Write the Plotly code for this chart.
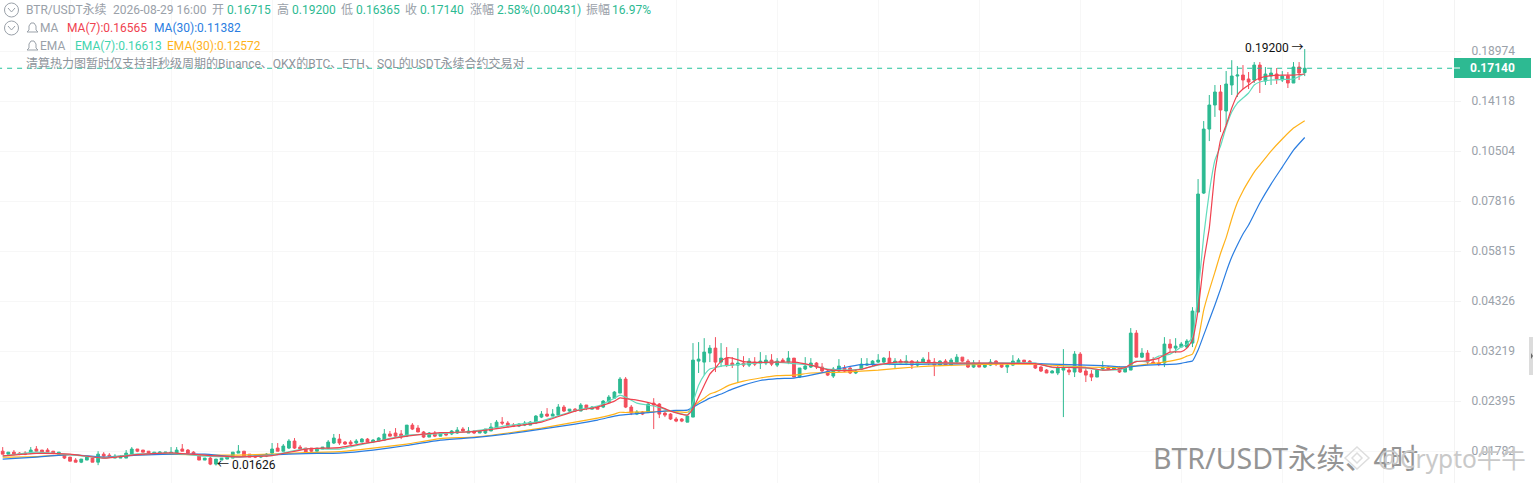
import math
import plotly.graph_objects as go

opens = [
 .01771,.01740,.01761,.01751,.01751,.01751,.01793,.01782,.01782,.01771,
 .01740,.01730,.01710,.01680,.01659,.01680,.01700,.01659,.01740,.01730,
 .01700,.01700,.01700,.01730,.01793,.01782,.01771,.01740,.01751,.01751,
 .01740,.01751,.01793,.01782,.01761,.01730,.01680,.01700,.01640,.01680,
 .01690,.01700,.01751,.01771,.01740,.01720,.01710,.01720,.01751,.01803,
 .01771,.01803,.01880,.01814,.01803,.01803,.01771,.01793,.01803,.01858,
 .01902,.01869,.01869,.01858,.01869,.01902,.01869,.01880,.01891,.01960,
 .01971,.01960,.01936,.02066,.02030,.01983,.01925,.01971,.01936,.01971,
 .01960,.01971,.02018,.01971,.01995,.01971,.01971,.01995,.02030,.02103,
 .02091,.02066,.02054,.02066,.02066,.02091,.02166,.02205,.02179,.02192,
 .02298,.02245,.02271,.02245,.02326,.02271,.02298,.02298,.02367,.02423,
 .02496,.02712,.02298,.02205,.02232,.02232,.02353,.02339,.02218,.02205,
 .02141,.02141,.02103,.02166,.03016,.02998,.03162,.03257,.02998,.03070,
 .02981,.02946,.02981,.02946,.02998,.02981,.02981,.03034,.02946,.03034,
 .02998,.03070,.02745,.02878,.02912,.02981,.02912,.02844,.02761,.02844,
 .02895,.02895,.02811,.02878,.02946,.02963,.02998,.02998,.03070,.02981,
 .03016,.02981,.03016,.02946,.02998,.03034,.02998,.02946,.03016,.02946,
 .02998,.03088,.03016,.02912,.02981,.02912,.02946,.03016,.02963,.02912,
 .02946,.02981,.03034,.03016,.02946,.02912,.02860,.02811,.02811,.02860,
 .02860,.02827,.03143,.02844,.02794,.02745,.02878,.02912,.02878,.02895,
 .02827,.02860,.03559,.03088,.03162,.02998,.02981,.02981,.03335,.03257,
 .03277,.03277,.03355,.04030,.08146,.11894,.13709,.14807,.13233,.15431,
 .16273,.16369,.15988,.15894,.17364,.15800,.16273,.16466,.15894,.16273,
 .15614,.17160,.16715]
highs = [
 .01814,.01761,.01782,.01761,.01771,.01814,.01825,.01782,.01803,.01771,
 .01761,.01740,.01710,.01700,.01690,.01710,.01700,.01771,.01761,.01751,
 .01740,.01730,.01782,.01814,.01793,.01782,.01771,.01761,.01771,.01761,
 .01814,.01814,.01847,.01793,.01771,.01730,.01700,.01720,.01690,.01700,
 .01720,.01761,.01836,.01771,.01740,.01730,.01730,.01751,.01858,.01858,
 .01847,.01902,.01914,.01836,.01803,.01803,.01803,.01814,.01891,.01960,
 .01960,.01880,.01891,.01902,.01914,.01914,.01902,.01925,.02018,.01995,
 .02030,.02006,.02066,.02091,.02066,.01995,.01983,.01995,.01971,.01971,
 .02006,.02042,.02042,.02042,.02006,.01995,.02018,.02091,.02128,.02166,
 .02116,.02091,.02091,.02116,.02116,.02192,.02245,.02285,.02271,.02339,
 .02326,.02271,.02285,.02353,.02326,.02312,.02312,.02395,.02467,.02526,
 .02745,.02745,.02326,.02258,.02245,.02353,.02423,.02353,.02232,.02218,
 .02166,.02153,.02179,.03355,.03375,.03455,.03315,.03475,.03355,.03277,
 .03088,.03257,.03106,.03070,.03088,.03181,.03125,.03143,.03070,.03070,
 .03200,.03070,.02895,.03088,.03070,.02998,.02981,.02878,.02912,.03052,
 .02946,.02929,.02878,.03070,.03070,.03034,.03143,.03088,.03200,.03070,
 .03052,.03125,.03034,.03034,.03088,.03181,.03070,.03034,.03052,.03070,
 .03143,.03088,.03052,.03034,.03034,.02963,.03052,.03034,.02981,.02963,
 .03125,.03070,.03034,.03034,.02981,.02929,.02878,.02860,.02929,.03238,
 .02895,.03200,.03181,.02895,.02860,.02878,.03016,.02929,.02929,.02929,
 .02912,.03666,.03623,.03257,.03219,.03088,.03070,.03475,.03435,.03455,
 .03375,.03435,.04150,.08849,.12470,.14546,.15431,.15431,.16761,.17873,
 .17261,.17364,.16662,.17674,.17674,.17160,.17059,.17059,.16761,.16662,
 .17674,.17674,.19200]
lows = [
 .01740,.01740,.01730,.01730,.01730,.01740,.01761,.01761,.01761,.01740,
 .01740,.01690,.01669,.01659,.01650,.01680,.01659,.01630,.01710,.01720,
 .01700,.01700,.01700,.01730,.01761,.01761,.01740,.01740,.01751,.01751,
 .01740,.01740,.01771,.01751,.01740,.01680,.01680,.01630,.01626,.01680,
 .01690,.01700,.01751,.01720,.01710,.01700,.01700,.01710,.01740,.01771,
 .01771,.01793,.01793,.01782,.01761,.01761,.01771,.01793,.01793,.01847,
 .01836,.01836,.01836,.01847,.01869,.01869,.01858,.01880,.01880,.01936,
 .01925,.01902,.01925,.02006,.01983,.01914,.01925,.01925,.01936,.01936,
 .01948,.01960,.01983,.01971,.01960,.01971,.01960,.01995,.02018,.02066,
 .02042,.02042,.02042,.02054,.02066,.02079,.02153,.02166,.02179,.02179,
 .02232,.02232,.02232,.02245,.02258,.02271,.02271,.02285,.02353,.02423,
 .02496,.02285,.02192,.02192,.02192,.02218,.02018,.02153,.02166,.02128,
 .02103,.02103,.02103,.02166,.02811,.02777,.02998,.02827,.02912,.02912,
 .02895,.02649,.02912,.02912,.02929,.02878,.02946,.02929,.02912,.02981,
 .02963,.02745,.02729,.02860,.02895,.02878,.02827,.02761,.02729,.02827,
 .02827,.02794,.02794,.02860,.02929,.02929,.02981,.02981,.02946,.02895,
 .02963,.02946,.02878,.02912,.02981,.02946,.02761,.02929,.02946,.02929,
 .02981,.02998,.02895,.02895,.02912,.02895,.02929,.02929,.02895,.02811,
 .02929,.02963,.02981,.02963,.02878,.02827,.02811,.02811,.02777,.02166,
 .02777,.02745,.02811,.02665,.02680,.02745,.02860,.02860,.02860,.02811,
 .02827,.02860,.03088,.03070,.02946,.02963,.02929,.02912,.03181,.03162,
 .03277,.03257,.03277,.04030,.08099,.11078,.12779,.11684,.12178,.14546,
 .14375,.15071,.15071,.15614,.14719,.15431,.15431,.15522,.15707,.15160,
 .15614,.15894,.16365]
closes = [
 .01740,.01761,.01740,.01740,.01740,.01782,.01771,.01761,.01761,.01751,
 .01761,.01700,.01669,.01659,.01690,.01710,.01659,.01740,.01720,.01720,
 .01720,.01710,.01751,.01793,.01771,.01761,.01751,.01761,.01761,.01761,
 .01761,.01782,.01771,.01751,.01740,.01680,.01700,.01640,.01690,.01700,
 .01710,.01761,.01771,.01720,.01710,.01710,.01730,.01740,.01793,.01771,
 .01825,.01880,.01803,.01793,.01761,.01771,.01803,.01814,.01869,.01914,
 .01858,.01847,.01847,.01880,.01902,.01869,.01891,.01914,.01960,.01936,
 .01936,.01925,.02066,.02018,.01983,.01925,.01971,.01936,.01971,.01948,
 .01995,.02006,.01995,.01995,.01971,.01995,.02018,.02042,.02103,.02091,
 .02054,.02054,.02079,.02091,.02103,.02179,.02205,.02179,.02205,.02298,
 .02245,.02271,.02245,.02326,.02285,.02298,.02271,.02381,.02438,.02511,
 .02712,.02298,.02218,.02232,.02205,.02339,.02326,.02205,.02192,.02141,
 .02116,.02116,.02179,.03034,.03052,.03181,.03257,.02998,.03070,.02946,
 .02946,.02981,.02946,.03016,.02963,.03016,.03034,.02963,.03016,.02998,
 .03070,.02745,.02895,.02929,.02981,.02912,.02844,.02777,.02878,.02929,
 .02844,.02811,.02844,.02963,.02963,.03016,.03034,.03070,.02981,.03016,
 .02981,.03016,.02946,.02998,.03052,.02981,.02946,.03016,.02946,.03034,
 .03088,.03016,.02912,.02981,.02912,.02963,.02998,.02963,.02912,.02946,
 .03016,.03034,.02998,.02981,.02895,.02844,.02811,.02844,.02895,.02895,
 .02827,.03143,.02827,.02777,.02745,.02860,.02912,.02878,.02912,.02827,
 .02895,.03559,.03088,.03162,.02998,.02981,.02963,.03335,.03257,.03296,
 .03335,.03395,.04054,.08099,.11894,.13709,.14807,.13311,.15522,.16273,
 .16369,.15894,.15707,.17364,.15894,.16466,.16564,.15988,.16273,.15614,
 .17160,.16564,.17140]

line_idx = [
 0,6,12,18,24,30,36,42,48,54,
 60,66,72,78,84,90,96,102,106,109,
 110,111,113,116,119,122,123,124,125,126,
 127,128,129,130,132,135,138,141,144,147,
 150,153,156,160,165,170,175,180,184,187,
 190,193,196,199,200,201,202,204,206,208,
 210,211,212,213,214,215,216,217,218,219,
 220,221,222,223,224,226,228,230,232]
ma7 = [
 .01723,.01748,.01740,.01700,.01735,.01754,.01730,.01713,.01725,.01793,
 .01809,.01869,.01936,.01975,.01987,.02042,.02103,.02245,.02298,.02381,
 .02428,.02417,.02395,.02339,.02245,.02192,.02278,.02438,.02617,.02794,
 .02895,.03016,.03075,.03070,.03007,.02993,.02998,.02998,.02946,.02869,
 .02852,.02874,.02955,.03003,.02989,.02981,.02981,.02976,.02972,.02912,
 .02904,.02900,.02860,.02878,.02904,.02963,.03007,.03025,.03070,.03181,
 .03187,.03257,.03415,.04078,.05417,.06623,.09223,.11144,.12178,.13466,
 .14546,.15071,.15431,.15800,.16083,.16321,.16369,.16369,.16565]
ma30 = [
 .01690,.01710,.01735,.01710,.01730,.01740,.01740,.01713,.01733,.01746,
 .01751,.01782,.01831,.01891,.01919,.01960,.02018,.02079,.02128,.02179,
 .02192,.02199,.02212,.02232,.02252,.02258,.02295,.02339,.02381,.02423,
 .02453,.02482,.02519,.02556,.02617,.02689,.02720,.02729,.02777,.02836,
 .02904,.02955,.02958,.02958,.02963,.02968,.02976,.02976,.02976,.02963,
 .02955,.02946,.02937,.02917,.02917,.02917,.02929,.02946,.02955,.02958,
 .02976,.02998,.03016,.03219,.03517,.03844,.04203,.04617,.05106,.05579,
 .05989,.06392,.06743,.07195,.07679,.08591,.09500,.10504,.11382]
ema7 = [
 .01720,.01761,.01735,.01700,.01743,.01751,.01720,.01713,.01730,.01798,
 .01793,.01869,.01948,.01963,.01995,.02060,.02116,.02252,.02312,.02423,
 .02467,.02438,.02353,.02312,.02248,.02192,.02367,.02617,.02777,.02878,
 .02904,.02929,.02937,.02946,.02963,.02986,.02993,.02972,.02946,.02878,
 .02860,.02878,.02946,.02981,.02981,.02981,.02976,.02981,.02981,.02904,
 .02912,.02895,.02860,.02869,.02895,.02963,.03016,.03007,.03106,.03143,
 .03277,.03335,.03475,.04509,.06317,.08195,.09901,.10755,.12035,.13151,
 .13870,.14286,.14719,.15431,.15707,.15894,.15941,.15988,.16613]
ema30 = [
 .01710,.01715,.01735,.01707,.01733,.01740,.01730,.01730,.01740,.01756,
 .01766,.01803,.01847,.01908,.01925,.01971,.02030,.02103,.02153,.02205,
 .02229,.02226,.02232,.02236,.02245,.02229,.02295,.02367,.02423,.02482,
 .02511,.02549,.02598,.02632,.02680,.02729,.02769,.02777,.02811,.02819,
 .02827,.02844,.02860,.02895,.02929,.02946,.02958,.02963,.02963,.02946,
 .02929,.02912,.02907,.02907,.02912,.02929,.02937,.02963,.02986,.03016,
 .03061,.03106,.03143,.03415,.04078,.04589,.05106,.05700,.06260,.07000,
 .07700,.08250,.08740,.09223,.09613,.10442,.11216,.11963,.12572]

# The readings above were taken against a scale sitting one pixel too high;
# the last entry of each series is the exact printed value and stays as it is.
READ_SCALE = 1.0059


def calibrated(values):
    return [round(v * READ_SCALE, 5) for v in values[:-1]] + values[-1:]


opens, highs, lows, closes = map(calibrated, (opens, highs, lows, closes))
ma7, ma30, ema7, ema30 = map(calibrated, (ma7, ma30, ema7, ema30))

y_ticks = [0.18974, 0.14118, 0.10504, 0.07816, 0.05815, 0.04326, 0.03219, 0.02395, 0.01782]
y_range = [0.014757, 0.25661]
x_grid = [12 + 18 * k for k in range(14)]
last_close = 0.17140
high_mark = 0.19200
low_mark = 0.01626
high_idx, low_idx = 232, 38

ohlc_header = [("BTR/USDT永续", 26, "#9aa1a9"), ("2026-08-29 16:00", 112.5, "#9aa1a9"),
               ("开", 211.5, "#9aa1a9"), ("0.16715", 227, "#2dba92"),
               ("高", 277, "#9aa1a9"), ("0.19200", 292, "#2dba92"),
               ("低", 341, "#9aa1a9"), ("0.16365", 356, "#2dba92"),
               ("收", 405, "#9aa1a9"), ("0.17140", 420, "#2dba92"),
               ("涨幅", 470, "#9aa1a9"), ("2.58%(0.00431)", 497, "#2dba92"),
               ("振幅", 586, "#9aa1a9"), ("16.97%", 612, "#2dba92")]
ma_legend = [("MA", 40, "#9aa1a9"), ("MA(7):0.16565", 67, "#f0424f"), ("MA(30):0.11382", 153.5, "#2a7de1")]
ema_legend = [("EMA", 40, "#9aa1a9"), ("EMA(7):0.16613", 74.5, "#3fd4ae"), ("EMA(30):0.12572", 167, "#ffb21a")]
notice = "清算热力图暂时仅支持非秒级周期的Binance、OKX的BTC、ETH、SOL的USDT永续合约交易对"

UP, DOWN = "#2dba92", "#f34e5c"
FONT = "Roboto, 'Noto Sans CJK SC', sans-serif"
MARK_FONT = "'Noto Sans', 'Noto Sans CJK SC', sans-serif"
W, H, PLOT_W = 1533, 483, 1454


def px(x):
    return x / PLOT_W


def py(y):
    return 1 - y / H


fig = go.Figure()
fig.add_trace(go.Scatter(x=[-1, 260], y=[last_close, last_close], mode="lines",
                         line=dict(color="#22c39a", width=1, dash="5px,5px"), hoverinfo="skip"))
fig.add_trace(go.Candlestick(x=list(range(len(opens))), open=opens, high=highs, low=lows, close=closes,
                             increasing=dict(line=dict(color=UP, width=1), fillcolor=UP),
                             decreasing=dict(line=dict(color=DOWN, width=1), fillcolor=DOWN),
                             whiskerwidth=0, hoverinfo="skip"))
for values, color in [(ema30, "#ffb21a"), (ma30, "#2a7de1"), (ema7, "#62dcbd"), (ma7, "#f0424f")]:
    fig.add_trace(go.Scatter(x=line_idx, y=values, mode="lines", hoverinfo="skip",
                             line=dict(color=color, width=1.2, shape="spline", smoothing=0.4)))

annotations = []


def text(t, x, y, color, size=12, anchor="left", family=FONT):
    annotations.append(dict(text=t, x=px(x), y=py(y), xref="paper", yref="paper", showarrow=False,
                            xanchor=anchor, yanchor="middle", align="left", borderpad=0, borderwidth=0,
                            font=dict(family=family, size=size, color=color)))


for t, x, c in ohlc_header:
    text(t, x, 10, c)
for t, x, c in ma_legend:
    text(t, x, 28, c)
for t, x, c in ema_legend:
    text(t, x, 46, c)
text(notice, 26, 64, "#8f959c")
text(f"<b>{last_close:.5f}</b>", 1470, 68, "#ffffff", 12)
text("BTR/USDT永续、4时", 1153, 458, "#949494", 28.5, family=MARK_FONT)
text("@Crypto牛牛", 1378, 458, "#c9c9c9", 24.5, family=MARK_FONT)

annotations.append(dict(text=f"{high_mark:.5f} →", x=high_idx, y=math.log10(high_mark), xref="x", yref="y",
                        xanchor="right", yanchor="middle", showarrow=False, xshift=0, yshift=1, borderpad=0,
                        font=dict(family=FONT, size=12, color="#111111")))
annotations.append(dict(text=f"← {low_mark:.5f}", x=low_idx, y=math.log10(low_mark), xref="x", yref="y",
                        xanchor="left", yanchor="middle", showarrow=False, xshift=0, yshift=1.5, borderpad=0,
                        font=dict(family=FONT, size=12, color="#111111")))

ICON = dict(color="#9aa1a9", width=1)
shapes = []


def path(d, line=ICON, fill=None):
    s = dict(type="path", path=d, xref="paper", yref="paper", layer="above", line=line)
    if fill:
        s["fillcolor"] = fill
    shapes.append(s)


def P(pts, close=False):
    d = "M " + " L ".join(f"{px(x):.5f},{py(y):.5f}" for x, y in pts)
    return d + (" Z" if close else "")


def rect(x0, y0, x1, y1, color):
    shapes.append(dict(type="rect", xref="paper", yref="paper", x0=px(x0), x1=px(x1), y0=py(y0), y1=py(y1),
                       fillcolor=color, line=dict(width=0), layer="above"))


for cy in (10, 28):
    shapes.append(dict(type="circle", xref="paper", yref="paper", x0=px(4.5), x1=px(18.5), y0=py(cy + 7), y1=py(cy - 7),
                       line=ICON, layer="above"))
    path(P([(8, cy - 2), (11.5, cy + 2), (15, cy - 2)]))
for cy in (28, 46):
    path(P([(27, cy + 4), (29, cy + 2), (29, cy - 2), (31, cy - 5), (34, cy - 5), (36, cy - 2), (36, cy + 2), (38, cy + 4)], True))

rect(1454, 58, 1531, 78, UP)
shapes.append(dict(type="line", xref="paper", yref="paper", x0=px(1454), x1=px(1460), y0=py(68), y1=py(68),
                   line=dict(color="#ffffff", width=1), layer="above"))
rect(1529, 337, 1533, 375, "#dcdcdc")
path(P([(1531, 353), (1533, 356), (1531, 359)], True), dict(color="#666666", width=0), "#666666")
path(P([(1357, 447), (1369, 458), (1357, 469), (1345, 458)], True), dict(color="#dedede", width=1.5))
path(P([(1357, 453), (1362, 458), (1357, 463), (1352, 458)], True), dict(color="#dedede", width=1.5))

fig.update_layout(
    width=W, height=H, autosize=False, showlegend=False,
    margin=dict(l=0, r=W - PLOT_W, t=0, b=0),
    paper_bgcolor="#ffffff", plot_bgcolor="#ffffff",
    annotations=annotations, shapes=shapes,
    hovermode=False, dragmode=False,
    xaxis=dict(range=[-0.48, 258.6], tickmode="array", tickvals=x_grid, showticklabels=False,
               ticks="", showgrid=True, gridcolor="#f7f7f7", gridwidth=1, zeroline=False,
               rangeslider=dict(visible=False), showline=False),
    yaxis=dict(type="log", side="right", range=[math.log10(y_range[0]), math.log10(y_range[1])],
               tickmode="array", tickvals=y_ticks, ticktext=[f"{v:.5f}" for v in y_ticks],
               ticks="outside", ticklen=6, tickcolor="#f3f3f3", tickwidth=1, ticklabelstandoff=8,
               tickfont=dict(family=FONT, size=12, color="#9aa1a9"),
               showgrid=True, gridcolor="#f7f7f7", gridwidth=1, zeroline=False,
               showline=True, linecolor="#f3f3f3", linewidth=1),
)

assert len(opens) == len(highs) == len(lows) == len(closes) == 233
assert len(line_idx) == len(ma7) == len(ma30) == len(ema7) == len(ema30)

fig.write_html("out.html", config=dict(displayModeBar=False),
               post_script="document.body.style.margin='0';document.body.style.overflow='hidden';")
